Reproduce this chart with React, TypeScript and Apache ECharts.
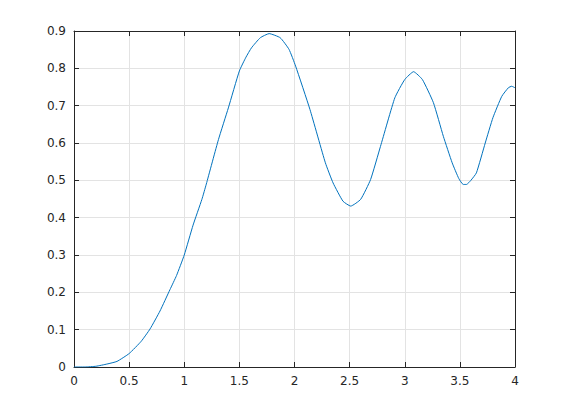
import { useEffect, useRef } from 'react';
import * as echarts from 'echarts';

// values
const xValues = [
  0, 0.1, 0.2, 0.3, 0.39, 0.5, 0.61, 0.69, 0.78, 0.87, 0.93, 1.0, 1.08, 1.16,
  1.2, 1.31, 1.4, 1.5, 1.56, 1.61, 1.69, 1.77, 1.87, 1.95, 2.01, 2.14, 2.28,
  2.35, 2.44, 2.51, 2.6, 2.69, 2.78, 2.91, 3.0, 3.08, 3.16, 3.26, 3.35, 3.43,
  3.49, 3.53, 3.56, 3.6, 3.65, 3.73, 3.8, 3.88, 3.94, 3.97, 4.0,
];
const yValues = [
  0, 0, 0.002, 0.008, 0.015, 0.036, 0.069, 0.102, 0.15, 0.207, 0.245, 0.3,
  0.38, 0.449, 0.49, 0.609, 0.694, 0.793, 0.83, 0.855, 0.882, 0.893, 0.882,
  0.851, 0.806, 0.69, 0.547, 0.493, 0.444, 0.431, 0.449, 0.502, 0.591, 0.721,
  0.77, 0.791, 0.77, 0.708, 0.618, 0.547, 0.505, 0.489, 0.489, 0.5, 0.52,
  0.6, 0.668, 0.725, 0.748, 0.752, 0.748,
];

const X_MIN = 0;
const X_MAX = 4;
const X_STEP = 0.5;
const Y_MIN = 0;
const Y_MAX = 0.9;
const Y_STEP = 0.1;

const AXIS_COLOR = '#262626';
const GRID_COLOR = '#e3e3e3';
const LINE_COLOR = '#0072bd';
const FONT = '"DejaVu Sans", sans-serif';

export default function App() {
  const chartRef = useRef<HTMLDivElement>(null);

  useEffect(() => {
    if (!chartRef.current) return;
    const chart = echarts.init(chartRef.current, undefined, { renderer: 'svg' });

    const fmt = (v: number) => String(Math.round(v * 10) / 10);

    const baseX = {
      type: 'value' as const,
      min: X_MIN,
      max: X_MAX,
      interval: X_STEP,
      axisLine: { show: true, onZero: false, lineStyle: { color: AXIS_COLOR, width: 1 } },
      axisTick: { show: true, inside: true, length: 5, lineStyle: { color: AXIS_COLOR } },
    };
    const baseY = {
      type: 'value' as const,
      min: Y_MIN,
      max: Y_MAX,
      interval: Y_STEP,
      axisLine: { show: true, onZero: false, lineStyle: { color: AXIS_COLOR, width: 1 } },
      axisTick: { show: true, inside: true, length: 5, lineStyle: { color: AXIS_COLOR } },
    };

    chart.setOption({
      animation: false,
      backgroundColor: '#ffffff',
      grid: { left: 74, top: 31, right: 55, bottom: 46, containLabel: false },
      xAxis: [
        {
          ...baseX,
          position: 'bottom',
          axisLabel: {
            color: AXIS_COLOR,
            fontSize: 12,
            fontFamily: FONT,
            margin: 8,
            formatter: fmt,
          },
          splitLine: { show: true, lineStyle: { color: GRID_COLOR, width: 1 } },
        },
        {
          ...baseX,
          position: 'top',
          axisLabel: { show: false },
          splitLine: { show: false },
        },
      ],
      yAxis: [
        {
          ...baseY,
          position: 'left',
          axisLabel: {
            color: AXIS_COLOR,
            fontSize: 12,
            fontFamily: FONT,
            margin: 8,
            formatter: fmt,
          },
          splitLine: { show: true, lineStyle: { color: GRID_COLOR, width: 1 } },
        },
        {
          ...baseY,
          position: 'right',
          axisLabel: { show: false },
          splitLine: { show: false },
        },
      ],
      series: [
        {
          type: 'line',
          xAxisIndex: 0,
          yAxisIndex: 0,
          data: xValues.map((x, i) => [x, yValues[i]]),
          showSymbol: false,
          smooth: 0.15,
          lineStyle: { color: LINE_COLOR, width: 1 },
          itemStyle: { color: LINE_COLOR },
        },
      ],
    });

    return () => chart.dispose();
  }, []);

  return (
    <div
      ref={chartRef}
      style={{ position: 'fixed', left: 0, top: 0, width: 570, height: 413, background: '#fff' }}
    />
  );
}
